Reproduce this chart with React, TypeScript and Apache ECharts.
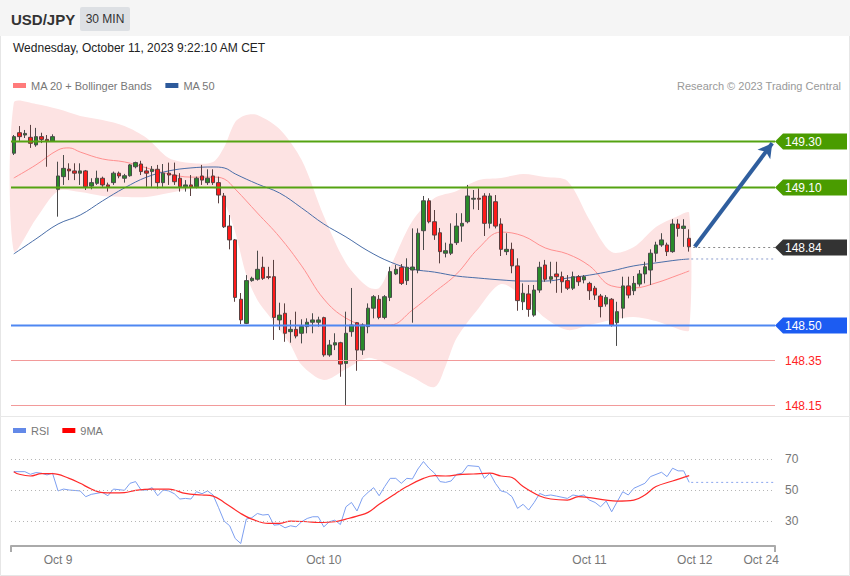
import { useEffect, useRef } from 'react';
import * as echarts from 'echarts';

const FONT = 'Liberation Sans, Arial, Helvetica, sans-serif';

// 30-minute bars: [open, close, low, high]
const candles: number[][] = [
  [149.247, 149.319, 149.239, 149.326],
  [149.336, 149.319, 149.301, 149.365],
  [149.326, 149.333, 149.313, 149.348],
  [149.316, 149.290, 149.270, 149.370],
  [149.283, 149.319, 149.275, 149.357],
  [149.319, 149.307, 149.291, 149.336],
  [149.307, 149.300, 149.188, 149.326],
  [149.300, 149.319, 149.296, 149.329],
  [149.090, 149.148, 148.971, 149.210],
  [149.145, 149.181, 149.109, 149.239],
  [149.178, 149.170, 149.130, 149.203],
  [149.170, 149.160, 149.130, 149.203],
  [149.160, 149.170, 149.109, 149.203],
  [149.170, 149.101, 149.087, 149.174],
  [149.104, 149.119, 149.090, 149.138],
  [149.116, 149.138, 149.109, 149.171],
  [149.138, 149.109, 149.101, 149.145],
  [149.109, 149.101, 149.080, 149.119],
  [149.119, 149.160, 149.109, 149.167],
  [149.160, 149.148, 149.138, 149.167],
  [149.138, 149.149, 149.119, 149.157],
  [149.149, 149.196, 149.145, 149.200],
  [149.188, 149.206, 149.181, 149.210],
  [149.200, 149.167, 149.152, 149.214],
  [149.170, 149.160, 149.101, 149.188],
  [149.167, 149.177, 149.101, 149.191],
  [149.177, 149.119, 149.094, 149.196],
  [149.119, 149.160, 149.101, 149.200],
  [149.160, 149.152, 149.109, 149.206],
  [149.152, 149.123, 149.109, 149.206],
  [149.138, 149.101, 149.080, 149.160],
  [149.101, 149.109, 149.080, 149.130],
  [149.109, 149.100, 149.061, 149.152],
  [149.101, 149.138, 149.094, 149.145],
  [149.148, 149.130, 149.109, 149.196],
  [149.119, 149.138, 149.109, 149.177],
  [149.148, 149.119, 149.109, 149.177],
  [149.119, 149.065, 149.029, 149.145],
  [149.061, 148.927, 148.922, 149.074],
  [148.930, 148.870, 148.829, 148.978],
  [148.870, 148.620, 148.601, 148.874],
  [148.612, 148.522, 148.504, 148.639],
  [148.507, 148.693, 148.504, 148.717],
  [148.693, 148.703, 148.688, 148.710],
  [148.699, 148.742, 148.693, 148.823],
  [148.751, 148.703, 148.696, 148.797],
  [148.710, 148.707, 148.699, 148.753],
  [148.710, 148.533, 148.435, 148.783],
  [148.522, 148.543, 148.478, 148.597],
  [148.551, 148.464, 148.427, 148.594],
  [148.471, 148.481, 148.423, 148.522],
  [148.481, 148.452, 148.442, 148.558],
  [148.464, 148.493, 148.420, 148.525],
  [148.493, 148.512, 148.464, 148.529],
  [148.512, 148.522, 148.464, 148.551],
  [148.512, 148.522, 148.493, 148.536],
  [148.532, 148.370, 148.362, 148.536],
  [148.370, 148.413, 148.362, 148.435],
  [148.413, 148.423, 148.391, 148.464],
  [148.423, 148.330, 148.275, 148.427],
  [148.333, 148.464, 148.152, 148.558],
  [148.471, 148.500, 148.449, 148.661],
  [148.510, 148.391, 148.301, 148.513],
  [148.391, 148.500, 148.370, 148.507],
  [148.493, 148.573, 148.464, 148.594],
  [148.573, 148.623, 148.529, 148.630],
  [148.612, 148.533, 148.525, 148.630],
  [148.533, 148.623, 148.525, 148.630],
  [148.620, 148.732, 148.604, 148.753],
  [148.722, 148.742, 148.717, 148.761],
  [148.751, 148.681, 148.674, 148.765],
  [148.693, 148.751, 148.674, 148.790],
  [148.739, 148.752, 148.510, 148.920],
  [148.739, 148.899, 148.725, 148.920],
  [148.910, 149.040, 148.826, 149.061],
  [149.040, 148.949, 148.942, 149.051],
  [148.949, 148.891, 148.870, 149.000],
  [148.901, 148.819, 148.768, 148.922],
  [148.812, 148.823, 148.794, 148.858],
  [148.812, 148.852, 148.804, 148.942],
  [148.858, 148.930, 148.848, 148.986],
  [148.930, 148.942, 148.862, 148.986],
  [148.949, 149.061, 148.942, 149.109],
  [149.047, 149.051, 149.003, 149.087],
  [149.051, 149.047, 149.000, 149.094],
  [149.061, 148.942, 148.887, 149.073],
  [148.942, 149.061, 148.920, 149.073],
  [149.036, 148.930, 148.920, 149.065],
  [148.939, 148.829, 148.800, 148.964],
  [148.819, 148.829, 148.804, 148.899],
  [148.829, 148.757, 148.725, 148.858],
  [148.757, 148.606, 148.562, 148.790],
  [148.601, 148.638, 148.565, 148.681],
  [148.635, 148.568, 148.536, 148.674],
  [148.543, 148.652, 148.536, 148.674],
  [148.652, 148.751, 148.640, 148.775],
  [148.761, 148.699, 148.688, 148.783],
  [148.699, 148.710, 148.681, 148.775],
  [148.722, 148.710, 148.640, 148.775],
  [148.710, 148.688, 148.640, 148.732],
  [148.693, 148.660, 148.652, 148.717],
  [148.660, 148.710, 148.652, 148.732],
  [148.710, 148.688, 148.670, 148.717],
  [148.696, 148.710, 148.681, 148.717],
  [148.681, 148.649, 148.609, 148.688],
  [148.660, 148.630, 148.609, 148.670],
  [148.626, 148.580, 148.533, 148.635],
  [148.591, 148.620, 148.580, 148.630],
  [148.612, 148.500, 148.493, 148.617],
  [148.510, 148.558, 148.409, 148.601],
  [148.573, 148.670, 148.529, 148.710],
  [148.670, 148.630, 148.616, 148.710],
  [148.649, 148.681, 148.630, 148.713],
  [148.678, 148.722, 148.667, 148.739],
  [148.722, 148.753, 148.681, 148.775],
  [148.739, 148.812, 148.674, 148.829],
  [148.812, 148.848, 148.775, 148.862],
  [148.848, 148.870, 148.840, 148.899],
  [148.848, 148.819, 148.800, 148.858],
  [148.819, 148.939, 148.814, 148.960],
  [148.939, 148.920, 148.884, 148.960],
  [148.920, 148.930, 148.840, 148.960],
  [148.877, 148.840, 148.819, 148.916],
];

// Bollinger band (20) upper / lower, read at bar indices
const bbUpperIdx = [0, 4, 8, 12, 16, 20, 24, 28, 32, 36, 38, 40, 42, 44, 48, 52, 56, 60, 64, 66, 68, 72, 76, 80, 84, 88, 92, 96, 100, 104, 108, 112, 116, 120, 122];
const bbUpper = [149.465, 149.461, 149.439, 149.409, 149.391, 149.365, 149.313, 149.226, 149.204, 149.209, 149.274, 149.383, 149.413, 149.413, 149.352, 149.217, 148.974, 148.770, 148.665, 148.661, 148.752, 148.952, 149.052, 149.083, 149.130, 149.139, 149.157, 149.143, 149.126, 148.957, 148.817, 148.839, 148.926, 148.974, 148.987];
const bbLowerIdx = [0, 4, 8, 12, 16, 20, 24, 28, 32, 36, 38, 40, 42, 44, 46, 48, 50, 52, 56, 60, 64, 68, 72, 76, 78, 80, 84, 88, 92, 96, 100, 104, 108, 112, 116, 120, 122];
const bbLower = [148.822, 148.961, 149.083, 149.078, 149.061, 149.057, 149.057, 149.074, 149.091, 149.096, 149.035, 148.904, 148.717, 148.609, 148.543, 148.478, 148.413, 148.326, 148.261, 148.309, 148.357, 148.322, 148.274, 148.230, 148.322, 148.443, 148.574, 148.678, 148.622, 148.530, 148.478, 148.500, 148.522, 148.535, 148.517, 148.483, 148.478];

// MA 20
const ma20Idx = [0, 4, 8, 10, 12, 16, 20, 24, 28, 32, 36, 38, 40, 44, 48, 52, 56, 60, 64, 68, 72, 76, 80, 84, 88, 92, 96, 100, 104, 108, 112, 116, 120, 122];
const ma20 = [149.139, 149.196, 149.261, 149.270, 149.252, 149.222, 149.209, 149.183, 149.157, 149.143, 149.143, 149.135, 149.091, 148.987, 148.883, 148.757, 148.613, 148.530, 148.500, 148.500, 148.565, 148.643, 148.722, 148.835, 148.904, 148.887, 148.835, 148.809, 148.757, 148.670, 148.661, 148.683, 148.717, 148.735];

// MA 50
const ma50Idx = [0, 4, 8, 12, 16, 20, 24, 28, 32, 36, 38, 40, 44, 48, 52, 56, 60, 64, 68, 72, 76, 80, 84, 88, 92, 96, 100, 104, 108, 112, 116, 120, 122];
const ma50 = [148.809, 148.874, 148.939, 148.978, 149.039, 149.096, 149.143, 149.170, 149.183, 149.187, 149.183, 149.157, 149.113, 149.074, 149.009, 148.939, 148.883, 148.822, 148.774, 148.743, 148.730, 148.713, 148.704, 148.696, 148.691, 148.691, 148.704, 148.717, 148.735, 148.757, 148.770, 148.783, 148.787];

// RSI and its 9-period MA
const rsiIdx = [0, 2, 3, 4, 5, 6, 7, 8, 9, 10, 12, 13, 14, 16, 17, 18, 20, 21, 22, 23, 24, 25, 26, 27, 28, 29, 30, 31, 32, 33, 34, 35, 36, 37, 38, 39, 40, 41, 42, 43, 44, 45, 46, 47, 48, 49, 50, 51, 52, 53, 54, 55, 56, 57, 58, 59, 60, 61, 62, 63, 64, 65, 66, 67, 68, 69, 70, 71, 72, 73, 74, 75, 76, 77, 78, 79, 80, 81, 82, 84, 85, 86, 87, 88, 89, 90, 91, 92, 93, 94, 95, 96, 97, 98, 100, 101, 102, 103, 104, 105, 106, 107, 108, 109, 110, 111, 112, 114, 115, 117, 118, 119, 120, 121, 122];
const rsi = [61.8, 61.8, 60.1, 61.2, 60.8, 59.7, 60.8, 49.4, 50.6, 50, 49.4, 45.7, 47.2, 48.5, 46.3, 50.6, 49.8, 54.3, 55.4, 50, 50, 51.5, 46.3, 50, 49.4, 47.6, 44.2, 44.6, 44.2, 48.9, 47.6, 49.4, 46.8, 38.6, 30, 27, 18.8, 15.6, 31.3, 32.2, 34.9, 33.9, 34.3, 27.4, 27.8, 25.7, 27, 26.3, 29.6, 31.7, 32.8, 32.8, 26.3, 29.6, 30.6, 27.8, 39.2, 42, 36.5, 45.1, 48.5, 51.5, 46.3, 52.2, 57.5, 57.5, 54.3, 57.5, 57.1, 63.5, 68.3, 64, 60.8, 55.4, 54.9, 55.8, 60.1, 60.8, 65.7, 65.1, 57.5, 60.8, 54.3, 49.4, 48.5, 45.7, 38.2, 40.8, 37.1, 42, 47.8, 46.3, 46.8, 46.1, 44.6, 46.8, 46.1, 46.8, 43.5, 42, 39.2, 42.9, 36, 42.5, 48.9, 46.8, 51.1, 54.3, 58.6, 61.4, 58.6, 64, 62.3, 62.3, 54.9];
const rsiMaIdx = [0, 1, 3, 5, 7, 10, 12, 14, 16, 18, 20, 22, 25, 28, 29, 31, 34, 36, 38, 41, 43, 46, 48, 50, 53, 55, 58, 60, 62, 64, 66, 69, 71, 74, 76, 78, 81, 83, 86, 88, 90, 92, 95, 97, 100, 102, 104, 107, 109, 112, 114, 116, 119, 122];
const rsiMa = [61.8, 60.1, 59, 60.5, 60.5, 57.5, 54.3, 50.6, 48.3, 48.1, 48.3, 49.8, 50.6, 50.6, 50, 47.8, 46.8, 46.1, 42, 34.9, 31.3, 28.5, 28.5, 30, 29.6, 29.1, 29.6, 31.3, 33.2, 35.6, 40.8, 47.8, 52.2, 57.5, 59.2, 59, 60.1, 60.3, 60.8, 59, 58, 52.2, 46.1, 44.2, 43.5, 45.7, 45.1, 43.5, 42.9, 43.5, 46.8, 52.2, 55.8, 59.2];
const rsiLevels = [70, 50, 30];

// key levels
const levelValues = [149.3, 149.1, 148.84, 148.5, 148.35, 148.15];
const levelKinds = ['resistance', 'resistance', 'last', 'support', 'minor', 'minor'];

// projection arrow: [bar index, price]
const arrowFrom = [123, 148.84];
const arrowTo = [137, 149.29];

// axis
const categoryCount = 138;
const tickIndex = [8, 56, 104, 123, 135];
const tickText = ['Oct 9', 'Oct 10', 'Oct 11', 'Oct 12', 'Oct 24'];

const LEVEL_STYLE: Record<string, any> = {
  resistance: { line: '#55a312', width: 2, badge: '#4a9c00', text: '#ffffff' },
  last: { line: '#888888', width: 1, dash: [2, 3], badge: '#333333', text: '#ffffff' },
  support: { line: '#4f87f2', width: 2, badge: '#1c5cf2', text: '#ffffff' },
  minor: { line: '#f29a9a', width: 1, badge: null, text: '#ff2424' },
};

const pairs = (idx: number[], vals: number[]) => idx.map((i, k) => [i, vals[k]]);

export default function App() {
  const ref = useRef<HTMLDivElement>(null);

  useEffect(() => {
    if (!ref.current) return;
    const chart = echarts.init(ref.current, undefined, { renderer: 'svg' });
    const categories = Array.from({ length: categoryCount }, (_, i) => String(i));
    const lastIndex = candles.length - 1;

    const bandRender = (_params: any, api: any) => {
      const top = bbUpperIdx.map((ix, k) => api.coord([ix, bbUpper[k]]));
      const bottom = bbLowerIdx.map((ix, k) => api.coord([ix, bbLower[k]])).reverse();
      return {
        type: 'polygon',
        shape: { points: top.concat(bottom), smooth: 0.3 },
        style: { fill: '#fde3e3' },
      };
    };

    const levelRender = (params: any, api: any) => {
      const kind = levelKinds[params.dataIndex];
      const st = LEVEL_STYLE[kind];
      const v = api.value(1);
      const y = Math.round(api.coord([0, v])[1]) + 0.5;
      const cs = params.coordSys;
      const R = cs.x + cs.width;
      const x1 = kind === 'last' ? api.coord([lastIndex, v])[0] + 4 : cs.x;
      const children: any[] = [
        {
          type: 'line',
          shape: { x1, y1: y, x2: R, y2: y },
          style: { stroke: st.line, lineWidth: st.width, lineDash: st.dash },
        },
      ];
      if (st.badge) {
        children.push({
          type: 'polygon',
          shape: { points: [[R, y], [R + 8, y - 8], [R + 72, y - 8], [R + 72, y + 8], [R + 8, y + 8]] },
          style: { fill: st.badge },
        });
      }
      children.push({
        type: 'text',
        style: {
          text: v.toFixed(2), x: R + 10, y, fill: st.text, fontSize: 12, fontFamily: FONT,
          align: 'left', verticalAlign: 'middle',
        },
      });
      return { type: 'group', children };
    };

    const extRender = (color: string) => (params: any, api: any) => {
      const p = api.coord([api.value(0), api.value(1)]);
      const cs = params.coordSys;
      return {
        type: 'line',
        shape: { x1: p[0] + 2, y1: p[1], x2: cs.x + cs.width, y2: p[1] },
        style: { stroke: color, lineWidth: 1, lineDash: [2, 3] },
      };
    };

    const option: any = {
      animation: false,
      textStyle: { fontFamily: FONT },
      graphic: [
        { type: 'rect', z: -10, shape: { x: 0.5, y: 0.5, width: 849, height: 575 }, style: { fill: '#ffffff', stroke: '#e6e6e6', lineWidth: 1 } },
        { type: 'rect', z: -9, shape: { x: 0, y: 0, width: 850, height: 36 }, style: { fill: '#f5f5f5' } },
        { type: 'text', style: { text: 'USD/JPY', x: 11, y: 19, fontSize: 15, fontWeight: 'bold', fill: '#333333', fontFamily: FONT, verticalAlign: 'middle' } },
        { type: 'rect', shape: { x: 80, y: 7, width: 50, height: 24, r: 2 }, style: { fill: '#dde0e4' } },
        { type: 'text', style: { text: '30 MIN', x: 105, y: 19, fontSize: 12, fill: '#333333', fontFamily: FONT, align: 'center', verticalAlign: 'middle' } },
        { type: 'text', style: { text: 'Wednesday, October 11, 2023 9:22:10 AM CET', x: 13, y: 48, fontSize: 12, fill: '#222222', fontFamily: FONT, verticalAlign: 'middle' } },
        { type: 'text', style: { text: 'Research \u00a9 2023 Trading Central', x: 841, y: 86, fontSize: 11, fill: '#999999', fontFamily: FONT, align: 'right', verticalAlign: 'middle' } },
        { type: 'line', shape: { x1: 0, y1: 416.5, x2: 850, y2: 416.5 }, style: { stroke: '#e8e8e8', lineWidth: 1 } },
      ],
      legend: [
        {
          data: [
            { name: 'MA 20 + Bollinger Bands', itemStyle: { color: '#ff7b7b' } },
            { name: 'MA 50', itemStyle: { color: '#2d5a9b' } },
          ],
          left: 13, top: 80, padding: 0, icon: 'rect', itemWidth: 13, itemHeight: 5, itemGap: 13,
          textStyle: { color: '#777777', fontSize: 11, fontFamily: FONT },
        },
        {
          data: [
            { name: 'RSI', itemStyle: { color: '#6389e8' } },
            { name: '9MA', itemStyle: { color: '#ff0000' } },
          ],
          left: 13, top: 425, padding: 0, icon: 'rect', itemWidth: 13, itemHeight: 5, itemGap: 13,
          textStyle: { color: '#777777', fontSize: 11, fontFamily: FONT },
        },
      ],
      grid: [
        { left: 11, width: 764, top: 95, height: 322 },
        { left: 11, width: 764, top: 434, height: 112 },
      ],
      xAxis: [
        { type: 'category', gridIndex: 0, data: categories, show: false },
        {
          type: 'category', gridIndex: 1, data: categories,
          axisLine: { show: true, lineStyle: { color: '#aaaaaa', width: 2 } },
          axisTick: { show: true, interval: (index: number) => index === 0, length: 6, lineStyle: { color: '#aaaaaa', width: 2 } },
          axisLabel: {
            interval: 0, color: '#777777', fontSize: 12, margin: 8, fontFamily: FONT,
            formatter: (_v: string, i: number) => {
              const k = tickIndex.indexOf(i);
              return k >= 0 ? tickText[k] : '';
            },
          },
          splitLine: { show: false },
        },
      ],
      yAxis: [
        { type: 'value', gridIndex: 0, min: 148.1, max: 149.5, show: false },
        { type: 'value', gridIndex: 1, min: 14, max: 86, show: false },
      ],
      series: [
        {
          type: 'custom', name: 'band', xAxisIndex: 0, yAxisIndex: 0, z: 1, silent: true,
          data: [[0, bbUpper[0]]], renderItem: bandRender,
        },
        {
          type: 'line', name: 'MA 20 + Bollinger Bands', xAxisIndex: 0, yAxisIndex: 0, z: 2,
          data: pairs(ma20Idx, ma20), showSymbol: false, symbol: 'none', smooth: 0.4,
          lineStyle: { color: '#ff8f8f', width: 1 }, itemStyle: { color: '#ff7b7b' }, silent: true,
        },
        {
          type: 'line', name: 'MA 50', xAxisIndex: 0, yAxisIndex: 0, z: 2,
          data: pairs(ma50Idx, ma50), showSymbol: false, symbol: 'none', smooth: 0.4,
          lineStyle: { color: '#4a6ea8', width: 1 }, itemStyle: { color: '#2d5a9b' }, silent: true,
          markLine: {
            silent: true, symbol: ['none', 'arrow'], symbolSize: [12, 14],
            lineStyle: { color: '#2f5e9e', width: 4, type: 'solid' },
            label: { show: false },
            emphasis: { disabled: true },
            data: [[{ coord: arrowFrom }, { coord: arrowTo }]],
          },
        },
        {
          type: 'custom', name: 'ma50ext', xAxisIndex: 0, yAxisIndex: 0, z: 2, silent: true,
          data: [[ma50Idx[ma50Idx.length - 1], ma50[ma50.length - 1]]], renderItem: extRender('#8a9bcc'),
        },
        {
          type: 'candlestick', name: 'USD/JPY', xAxisIndex: 0, yAxisIndex: 0, z: 3,
          data: candles, barWidth: 4, silent: true,
          itemStyle: { color: '#2a8a2a', color0: '#ff1a1a', borderColor: '#4a4a4a', borderColor0: '#5a4040', borderWidth: 1 },
        },
        {
          type: 'custom', name: 'levels', xAxisIndex: 0, yAxisIndex: 0, z: 4, silent: true,
          data: levelValues.map((v) => [0, v]), renderItem: levelRender,
        },
        {
          type: 'line', name: 'RSI', xAxisIndex: 1, yAxisIndex: 1,
          data: pairs(rsiIdx, rsi), showSymbol: false, symbol: 'none',
          lineStyle: { color: '#7d9ff0', width: 1 }, itemStyle: { color: '#6389e8' }, silent: true,
          markLine: {
            silent: true, symbol: 'none',
            lineStyle: { color: '#b5b5b5', width: 1, type: [1, 3] },
            label: { show: true, position: 'end', distance: 10, color: '#777777', fontSize: 12, fontFamily: FONT, formatter: '{c}' },
            emphasis: { disabled: true },
            data: rsiLevels.map((v) => ({ yAxis: v })),
          },
        },
        {
          type: 'line', name: '9MA', xAxisIndex: 1, yAxisIndex: 1,
          data: pairs(rsiMaIdx, rsiMa), showSymbol: false, symbol: 'none', smooth: 0.4,
          lineStyle: { color: '#ff2a2a', width: 1.2 }, itemStyle: { color: '#ff0000' }, silent: true,
        },
        {
          type: 'custom', name: 'rsiext', xAxisIndex: 1, yAxisIndex: 1, silent: true,
          data: [[rsiIdx[rsiIdx.length - 1], rsi[rsi.length - 1]]], renderItem: extRender('#8aa6ee'),
        },
      ],
    };

    chart.setOption(option);
    return () => chart.dispose();
  }, []);

  return (
    <div
      ref={ref}
      style={{ position: 'fixed', left: 0, top: 0, width: 850, height: 576, background: '#ffffff' }}
    />
  );
}
